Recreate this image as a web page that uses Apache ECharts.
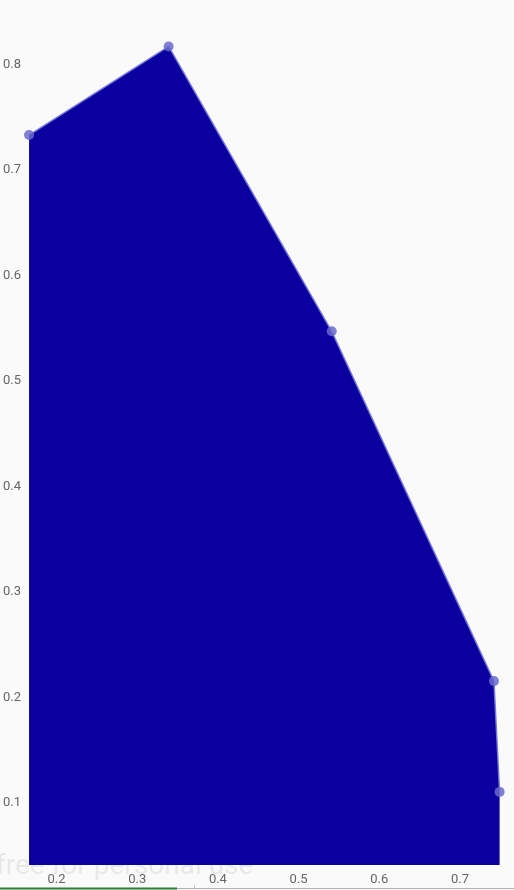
<!DOCTYPE html>
<html>
<head>
<meta charset="utf-8">
<script src="https://cdn.jsdelivr.net/npm/echarts@6/dist/echarts.min.js"></script>
<style>
html,body{margin:0;padding:0;background:#fafafa;}
#c{width:514px;height:890px;}
</style>
</head>
<body>
<div id="c"></div>
<script>
var xValues = [0.166, 0.339, 0.541, 0.742, 0.749];
var yValues = [0.733, 0.817, 0.547, 0.2155, 0.1105];
var xRange = [0.166, 0.749];
var yRange = [0.0412, 0.861];
var watermark = 'free for personal use';

var points = xValues.map(function (x, i) { return [x, yValues[i]]; });

var chart = echarts.init(document.getElementById('c'));
chart.setOption({
  backgroundColor: '#fafafa',
  animation: false,
  grid: { left: 28.5, right: 14.4, top: 0, bottom: 25, containLabel: false },
  xAxis: {
    type: 'value', min: xRange[0], max: xRange[1], splitNumber: 6,
    axisLine: { show: false }, axisTick: { show: false }, splitLine: { show: false },
    axisLabel: { color: '#666', fontFamily: 'Roboto', fontSize: 13, margin: 8,
      showMinLabel: false, showMaxLabel: false }
  },
  yAxis: {
    type: 'value', min: yRange[0], max: yRange[1], splitNumber: 8,
    axisLine: { show: false }, axisTick: { show: false }, splitLine: { show: false },
    axisLabel: { color: '#666', fontFamily: 'Roboto', fontSize: 13, margin: 8,
      showMinLabel: false, showMaxLabel: false }
  },
  series: [{
    type: 'line',
    data: points,
    symbol: 'circle',
    symbolSize: 10,
    clip: false,
    itemStyle: { color: 'rgba(105,105,205,0.85)' },
    lineStyle: { color: 'rgba(120,120,220,0.9)', width: 1.5 },
    areaStyle: { color: '#0a00a0', opacity: 1, origin: 'start' },
    z: 2
  }],
  graphic: [
    { type: 'text', left: -4, top: 853, z: 0, silent: true,
      style: { text: watermark, font: '28px Roboto', fill: 'rgba(0,0,0,0.07)' } },
    { type: 'rect', left: 0, top: 888, z: 10, silent: true,
      shape: { width: 514, height: 1 }, style: { fill: '#b0b0b0' } },
    { type: 'rect', left: 0, top: 887.5, z: 11, silent: true,
      shape: { width: 177, height: 2 }, style: { fill: '#2e7d32' } },
    { type: 'rect', left: 194, top: 885, z: 11, silent: true,
      shape: { width: 1, height: 3 }, style: { fill: '#c8c8c8' } }
  ]
});
</script>
</body>
</html>
